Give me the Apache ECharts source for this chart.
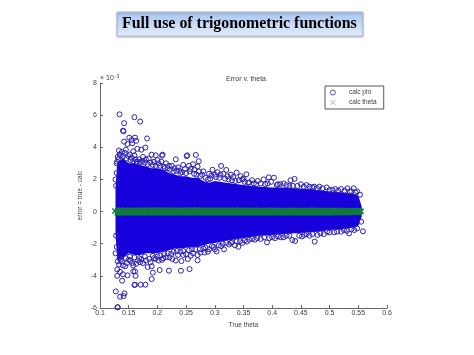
<!DOCTYPE html>
<html>
<head>
<meta charset="utf-8">
<script src="https://cdn.jsdelivr.net/npm/echarts@6/dist/echarts.min.js"></script>
<style>
  html, body { margin: 0; background: #fff; }
  #chart { width: 474px; height: 355px; }
  #chart canvas { filter: blur(0.35px); }
</style>
</head>
<body>
<div id="chart"></div>
<script>
// dense body of the cloud (upper / lower edge per theta)
const coreTheta = [0.127, 0.13, 0.14, 0.15, 0.16, 0.17, 0.18, 0.19, 0.2, 0.21, 0.22, 0.23, 0.24, 0.25, 0.26, 0.27, 0.28, 0.29, 0.3, 0.32, 0.34, 0.36, 0.38, 0.4, 0.42, 0.44, 0.46, 0.48, 0.5, 0.52, 0.54, 0.55, 0.556];
const coreUpper = [1.4, 3.1, 3.3, 3.0, 3.0, 2.9, 2.8, 2.7, 2.7, 2.6, 2.4, 2.3, 2.2, 2.2, 2.1, 2.1, 1.9, 1.8, 1.9, 1.8, 1.7, 1.6, 1.55, 1.5, 1.5, 1.45, 1.4, 1.35, 1.25, 1.2, 1.1, 1.0, 0.3];
const coreLower = [-1.4, -3.0, -2.9, -2.6, -2.7, -2.7, -2.6, -2.6, -2.6, -2.5, -2.4, -2.3, -2.3, -2.25, -2.2, -2.2, -2.1, -2.0, -1.95, -1.8, -1.7, -1.6, -1.5, -1.45, -1.4, -1.35, -1.3, -1.25, -1.15, -1.1, -1.0, -0.9, -0.3];

// solid part of the green band around zero
const bandTheta = [0.126, 0.2, 0.3, 0.4, 0.5, 0.557];
const bandUpper = [0.24, 0.25, 0.25, 0.24, 0.24, 0.22];
const bandLower = [-0.24, -0.25, -0.24, -0.25, -0.24, -0.22];

// single circles standing out of the cloud
const phiPoints = [
  [0.134, 6.05], [0.16, 5.87], [0.17, 5.6], [0.142, 5.5], [0.14, 5.03], [0.141, 5.0], [0.182, 4.55], [0.161, 4.6], [0.151, 4.6], [0.155, 4.45],
  [0.163, 4.4], [0.142, 4.35], [0.148, 4.2], [0.156, 4.25], [0.179, 3.98], [0.172, 3.85], [0.165, 3.9], [0.158, 3.75], [0.133, 3.8], [0.138, 3.7],
  [0.145, 3.85], [0.152, 3.55], [0.209, 3.54], [0.208, 3.48], [0.19, 3.54], [0.197, 3.5], [0.252, 3.5], [0.251, 3.45], [0.267, 3.52], [0.232, 3.25],
  [0.272, 3.13], [0.185, 3.3], [0.175, 3.4], [0.168, 3.25], [0.2, 3.2], [0.215, 3.0], [0.225, 2.85], [0.236, 2.75], [0.245, 2.9], [0.255, 2.85],
  [0.262, 2.95], [0.27, 2.8], [0.258, 2.65], [0.28, 2.5], [0.29, 2.35], [0.296, 2.6], [0.305, 2.45], [0.311, 2.84], [0.32, 2.59], [0.315, 2.35],
  [0.328, 2.3], [0.338, 2.42], [0.345, 2.2], [0.355, 2.32], [0.35, 2.05], [0.365, 1.95], [0.375, 1.9], [0.385, 2.0], [0.394, 2.13], [0.403, 2.11],
  [0.398, 1.85], [0.41, 1.7], [0.42, 1.75], [0.432, 1.95], [0.439, 2.03], [0.45, 1.7], [0.46, 1.65], [0.473, 1.55], [0.482, 1.55], [0.495, 1.5],
  [0.51, 1.4], [0.52, 1.4], [0.531, 1.45], [0.542, 1.45], [0.548, 1.25], [0.553, 1.05], [0.128, 1.6], [0.129, 2.4], [0.13, 3.1], [0.131, 3.4],
  [0.136, 3.5], [0.146, 3.3], [0.162, 3.25], [0.178, 3.05], [0.192, 2.9], [0.205, 2.85], [0.222, 2.6], [0.24, 2.4], [0.275, 2.2], [0.33, 1.95],
  [0.36, 1.8], [0.38, 1.75], [0.43, 1.6], [0.47, 1.5], [0.5, 1.35], [0.535, 1.25],
  [0.127, 2.0], [0.129, 3.0], [0.153, 3.2], [0.158, 3.15], [0.171, 3.1], [0.183, 2.95], [0.197, 2.85], [0.211, 2.8], [0.218, 2.7], [0.228, 2.5],
  [0.233, 2.55], [0.243, 2.45], [0.25, 2.4], [0.264, 2.35], [0.268, 2.3], [0.284, 2.1], [0.288, 2.0], [0.292, 2.05], [0.302, 2.15], [0.308, 2.1],
  [0.318, 2.05], [0.324, 2.0], [0.336, 1.9], [0.342, 1.95], [0.352, 1.85], [0.358, 1.8], [0.368, 1.75], [0.372, 1.7], [0.388, 1.7], [0.392, 1.75],
  [0.408, 1.65], [0.414, 1.7], [0.425, 1.65], [0.436, 1.6], [0.444, 1.6], [0.455, 1.55], [0.465, 1.55], [0.478, 1.45], [0.488, 1.45], [0.505, 1.35],
  [0.515, 1.3], [0.526, 1.3], [0.538, 1.25], [0.545, 1.2],
  [0.132, 3.25], [0.134, 3.55], [0.14, 3.45], [0.143, 3.65], [0.149, 3.45], [0.155, 3.35], [0.16, 3.5], [0.164, 3.1], [0.169, 3.05], [0.174, 3.15],
  [0.18, 3.25], [0.188, 3.05], [0.194, 3.1], [0.202, 3.0], [0.207, 3.1], [0.213, 2.7], [0.22, 2.85], [0.23, 2.7], [0.238, 2.55], [0.248, 2.65],
  [0.256, 2.5], [0.265, 2.6], [0.272, 2.5], [0.278, 2.3], [0.294, 2.25], [0.3, 2.3], [0.31, 2.3], [0.322, 2.2], [0.332, 2.15], [0.348, 2.0],
  [0.1304, -5.96], [0.131, -5.95], [0.1275, -4.97], [0.1426, -5.09], [0.135, -5.3], [0.141, -5.26], [0.16, -4.57], [0.161, -4.55], [0.171, -4.55], [0.179, -4.55],
  [0.1385, -4.3], [0.19, -4.2], [0.13, -4.0], [0.148, -3.97], [0.162, -4.0], [0.158, -3.72], [0.161, -3.72], [0.192, -3.8], [0.204, -3.64], [0.22, -3.68],
  [0.241, -3.68], [0.256, -3.58], [0.253, -2.95], [0.27, -3.03], [0.232, -3.05], [0.242, -3.08], [0.224, -2.64], [0.13, -3.6], [0.135, -3.75], [0.14, -3.9],
  [0.133, -3.3], [0.138, -3.1], [0.144, -3.4], [0.15, -3.0], [0.156, -3.2], [0.166, -3.05], [0.175, -3.2], [0.183, -3.45], [0.19, -3.4], [0.186, -2.95],
  [0.197, -2.95], [0.208, -3.0], [0.215, -2.85], [0.236, -2.7], [0.25, -2.65], [0.262, -2.6], [0.27, -2.7], [0.28, -2.3], [0.29, -2.35], [0.3, -2.35],
  [0.303, -2.48], [0.316, -2.35], [0.311, -2.15], [0.325, -2.05], [0.341, -2.19], [0.335, -2.1], [0.348, -1.95], [0.356, -1.87], [0.37, -1.75], [0.38, -1.7],
  [0.391, -1.92], [0.405, -1.65], [0.42, -1.6], [0.435, -1.77], [0.44, -1.83], [0.452, -1.55], [0.465, -1.5], [0.474, -1.87], [0.479, -1.46], [0.49, -1.4],
  [0.508, -1.29], [0.52, -1.25], [0.534, -1.36], [0.543, -1.15], [0.558, -1.23], [0.555, -0.63], [0.129, -2.2], [0.128, -1.5], [0.145, -2.9], [0.168, -2.9],
  [0.2, -2.8], [0.245, -2.45], [0.26, -2.35], [0.295, -2.15], [0.33, -1.9], [0.36, -1.75], [0.4, -1.6], [0.43, -1.5], [0.46, -1.4], [0.5, -1.3], [0.53, -1.2],
  [0.127, -2.6], [0.131, -3.1], [0.136, -3.0], [0.152, -2.8], [0.16, -2.85], [0.172, -2.95], [0.178, -2.8], [0.192, -2.75], [0.205, -2.75], [0.212, -2.65],
  [0.218, -2.6], [0.228, -2.5], [0.234, -2.45], [0.24, -2.5], [0.255, -2.4], [0.266, -2.35], [0.274, -2.35], [0.284, -2.25], [0.307, -2.1], [0.314, -2.0],
  [0.32, -1.95], [0.328, -1.95], [0.338, -1.85], [0.344, -1.85], [0.352, -1.8], [0.365, -1.7], [0.374, -1.65], [0.386, -1.6], [0.395, -1.65], [0.41, -1.55],
  [0.415, -1.6], [0.425, -1.5], [0.447, -1.5], [0.456, -1.45], [0.47, -1.4], [0.484, -1.35], [0.496, -1.25], [0.513, -1.25], [0.525, -1.15], [0.538, -1.1], [0.548, -1.05],
  [0.134, -2.9], [0.14, -3.35], [0.147, -3.2], [0.153, -3.05], [0.158, -3.35], [0.163, -3.25], [0.17, -3.15], [0.18, -3.05], [0.188, -3.15], [0.194, -2.9],
  [0.202, -3.05], [0.21, -2.9], [0.221, -2.85], [0.226, -2.95], [0.245, -2.7], [0.258, -2.75], [0.275, -2.55], [0.282, -2.55], [0.288, -2.5], [0.298, -2.2]
];

// green crosses hugging zero
const thetaTheta = [0.126, 0.13, 0.135, 0.14, 0.145, 0.15, 0.155, 0.16, 0.165, 0.17, 0.175, 0.18, 0.185, 0.19, 0.195, 0.2, 0.205, 0.21, 0.215, 0.22, 0.225, 0.23, 0.235, 0.24, 0.245, 0.25, 0.255, 0.26, 0.265, 0.27, 0.275, 0.28, 0.285, 0.29, 0.295, 0.3, 0.305, 0.31, 0.315, 0.32, 0.325, 0.33, 0.335, 0.34, 0.345, 0.35, 0.355, 0.36, 0.365, 0.37, 0.375, 0.38, 0.385, 0.39, 0.395, 0.4, 0.405, 0.41, 0.415, 0.42, 0.425, 0.43, 0.435, 0.44, 0.445, 0.45, 0.455, 0.46, 0.465, 0.47, 0.475, 0.48, 0.485, 0.49, 0.495, 0.5, 0.505, 0.51, 0.515, 0.52, 0.525, 0.53, 0.535, 0.54, 0.545, 0.55, 0.555];
const thetaError = [0.04, -0.08, 0.09, -0.03, 0.07, -0.09, 0.03, 0.08, -0.05, 0.02, -0.08, 0.1, -0.02, 0.05, -0.07, 0.08, -0.04, 0.01, 0.09, -0.09, 0.04, -0.02, 0.07, -0.06, 0.03, 0.08, -0.08, 0.02, -0.04, 0.09, -0.03, 0.06, -0.09, 0.01, 0.07, -0.05, 0.04, -0.08, 0.08, -0.02, 0.03, -0.07, 0.09, -0.04, 0.02, 0.07, -0.08, 0.05, -0.01, 0.08, -0.06, 0.03, -0.09, 0.06, -0.03, 0.09, -0.05, 0.01, 0.07, -0.08, 0.04, -0.02, 0.08, -0.06, 0.03, 0.06, -0.09, 0.02, -0.04, 0.09, -0.07, 0.04, -0.01, 0.07, -0.08, 0.05, -0.03, 0.08, -0.05, 0.02, 0.06, -0.07, 0.03, -0.04, 0.08, -0.06, 0.02];

const slideTitle = 'Full use of trigonometric functions';
const chartTitle = 'Error v. theta';
const xName = 'True theta';
const yName = 'error = true - calc';

const labelColor = '#3c3c3c';
const axisColor = '#666';
const blue = '#1800dc';
const circleEdge = '#2c20b4';
const green = '#0f7a3c';
const crossPath = 'path://M0 0L10 10M10 0L0 10';

const zip = (xs, ys) => xs.map((x, i) => [x, ys[i]]);

// filled shape between zero and an edge, no legend entry
const fillSeries = (xs, ys, color, z) => ({
  type: 'line',
  data: zip(xs, ys),
  showSymbol: false,
  silent: true,
  z: z,
  lineStyle: { width: 0 },
  areaStyle: { color: color, opacity: 1 }
});

const myChart = echarts.init(document.getElementById('chart'), null, { renderer: 'canvas' });
myChart.setOption({
  animation: false,
  backgroundColor: '#fff',
  title: {
    text: chartTitle,
    left: 241,
    top: 71,
    textAlign: 'center',
    textStyle: { fontFamily: 'Liberation Sans', fontSize: 7, fontWeight: 'normal', color: labelColor }
  },
  legend: {
    left: 325,
    top: 86,
    orient: 'vertical',
    width: 60,
    padding: [3, 7, 3, 5],
    itemGap: 3,
    itemWidth: 16,
    itemHeight: 5,
    borderColor: '#555',
    borderWidth: 1,
    textStyle: { fontFamily: 'Liberation Sans', fontSize: 6.5, color: labelColor, padding: [0, 0, 0, 3] },
    data: [
      { name: 'calc phi', itemStyle: { color: 'rgba(0,0,0,0)', borderColor: circleEdge, borderWidth: 0.8 } },
      { name: 'calc theta', itemStyle: { color: 'rgba(0,0,0,0)', borderColor: '#7fa890', borderWidth: 0.8 } }
    ]
  },
  grid: { left: 100, right: 87, top: 83, bottom: 47 },
  xAxis: {
    type: 'value',
    min: 0.1,
    max: 0.6,
    interval: 0.05,
    name: xName,
    nameLocation: 'middle',
    nameGap: 12,
    nameTextStyle: { fontFamily: 'Liberation Sans', fontSize: 6.5, color: labelColor },
    splitLine: { show: false },
    axisLine: { onZero: false, lineStyle: { color: axisColor, width: 1 } },
    axisTick: { inside: true, length: 3, lineStyle: { color: axisColor } },
    axisLabel: { fontFamily: 'Liberation Sans', fontSize: 7, color: labelColor, margin: 2, showMinLabel: true, showMaxLabel: true }
  },
  yAxis: {
    type: 'value',
    min: -6,
    max: 8,
    interval: 2,
    name: yName,
    nameLocation: 'middle',
    nameGap: 16,
    nameMoveOverlap: false,
    nameTextStyle: { fontFamily: 'Liberation Sans', fontSize: 6.5, color: labelColor },
    splitLine: { show: false },
    axisLine: { show: true, onZero: false, lineStyle: { color: axisColor, width: 1 } },
    axisTick: { inside: true, length: 3, lineStyle: { color: axisColor } },
    axisLabel: { fontFamily: 'Liberation Sans', fontSize: 7, color: labelColor, margin: 3, showMinLabel: true, showMaxLabel: true }
  },
  series: [
    fillSeries(coreTheta, coreUpper, blue, 1),
    fillSeries(coreTheta, coreLower, blue, 1),
    {
      name: 'calc phi',
      type: 'scatter',
      data: phiPoints,
      symbol: 'circle',
      symbolSize: 5,
      z: 2,
      itemStyle: { color: 'rgba(0,0,0,0)', borderColor: circleEdge, borderWidth: 1, opacity: 1 }
    },
    fillSeries(bandTheta, bandUpper, green, 3),
    fillSeries(bandTheta, bandLower, green, 3),
    {
      name: 'calc theta',
      type: 'scatter',
      data: zip(thetaTheta, thetaError),
      symbol: crossPath,
      symbolSize: 5,
      z: 4,
      itemStyle: { color: 'rgba(0,0,0,0)', borderColor: green, borderWidth: 1.5, opacity: 1 }
    }
  ],
  graphic: [
    {
      type: 'rect',
      shape: { x: 117, y: 12, width: 246, height: 24 },
      style: {
        fill: new echarts.graphic.LinearGradient(0, 0, 0, 1, [
          { offset: 0, color: '#a8c4f0' },
          { offset: 1, color: '#e4edfb' }
        ]),
        stroke: '#a9bcd6',
        lineWidth: 1,
        shadowColor: 'rgba(0,0,0,0.22)',
        shadowBlur: 2,
        shadowOffsetX: 0,
        shadowOffsetY: 1
      }
    },
    {
      type: 'text',
      left: 122,
      top: 16,
      style: { text: slideTitle, font: 'bold 15.9px "Liberation Serif"', fill: '#000' }
    },
    {
      type: 'text',
      left: 100,
      top: 74,
      style: {
        text: '× 10{sup|-3}',
        font: '7px "Liberation Sans"',
        fill: labelColor,
        rich: { sup: { fontSize: 5, verticalAlign: 'top', padding: [0, 0, 4, 1], fill: labelColor } }
      }
    }
  ]
});
</script>
</body>
</html>
